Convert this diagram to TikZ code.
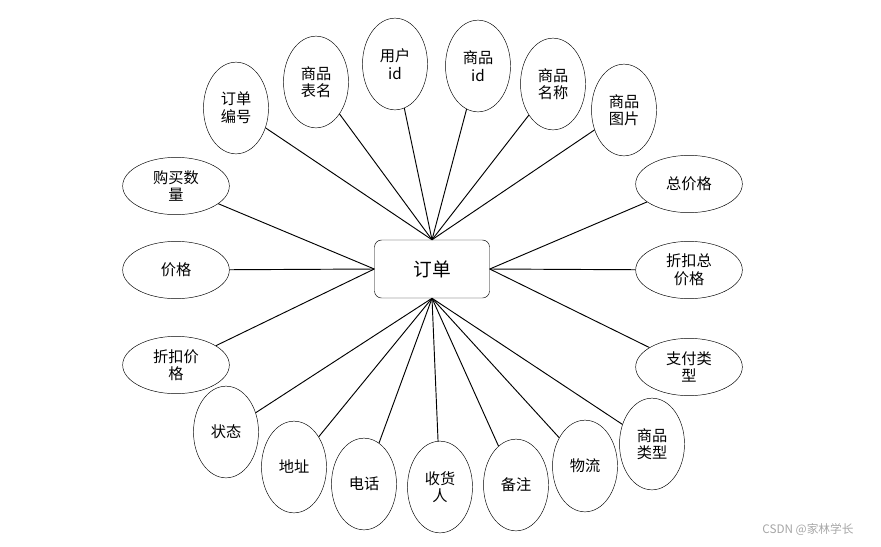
\documentclass[tikz,border=0pt]{standalone}
\usepackage{fontspec}
\newfontfamily\cjk{Noto Sans CJK SC}
\usetikzlibrary{shapes.geometric}
\begin{document}
\begin{tikzpicture}[x=0.03cm,y=-0.03cm,
  attr/.style={draw,ellipse,inner sep=0pt,font=\cjk\fontsize{13}{15}\selectfont,align=center},
  tall/.style={attr,minimum width=1.95cm,minimum height=2.75cm},
  wide/.style={attr,minimum width=3.2cm,minimum height=1.72cm},
  lk/.style={thick}]
\useasboundingbox (0,0) rectangle (881,546);
\node[draw,rounded corners=6pt,minimum width=3.45cm,minimum height=1.74cm,font=\cjk\fontsize{16}{18}\selectfont,fill=white] (c) at (432,269) {订单};
\node[tall] (a1) at (236,108) {订单\\编号};
\node[tall] (a2) at (316,82) {商品\\表名};
\node[tall] (a3) at (395,64) {用户\\id};
\node[tall] (a4) at (478,66) {商品\\id};
\node[tall] (a5) at (553,84) {商品\\名称};
\node[tall] (a6) at (624,110) {商品\\图片};
\node[wide] (b1) at (689,184) {总价格};
\node[wide] (b2) at (689,270) {折扣总\\价格};
\node[wide] (b3) at (689,367) {支付类\\型};
\node[tall] (d1) at (652,444) {商品\\类型};
\node[tall] (d2) at (585,466) {物流};
\node[tall] (d3) at (516,485) {备注};
\node[tall] (d4) at (440,487) {收货\\人};
\node[tall] (d5) at (364,484) {电话};
\node[tall] (d6) at (294,467) {地址};
\node[tall] (d7) at (226,432) {状态};
\node[wide] (e1) at (176,365) {折扣价\\格};
\node[wide] (e2) at (176,270) {价格};
\node[wide] (e3) at (176,186) {购买数\\量};
\foreach \n in {a1,a2,a3,a4,a5,a6} \draw[lk] (\n) -- (c.north);
\foreach \n in {d1,d2,d3,d4,d5,d6,d7} \draw[lk] (\n) -- (c.south);
\foreach \n in {b1,b2,b3} \draw[lk] (\n) -- (c.east);
\foreach \n in {e1,e2,e3} \draw[lk] (\n) -- (c.west);
\node[text=gray!70,font=\cjk\fontsize{10}{12}\selectfont] (wm) at (808,530) {CSDN @家林学长};
\end{tikzpicture}
\end{document}
